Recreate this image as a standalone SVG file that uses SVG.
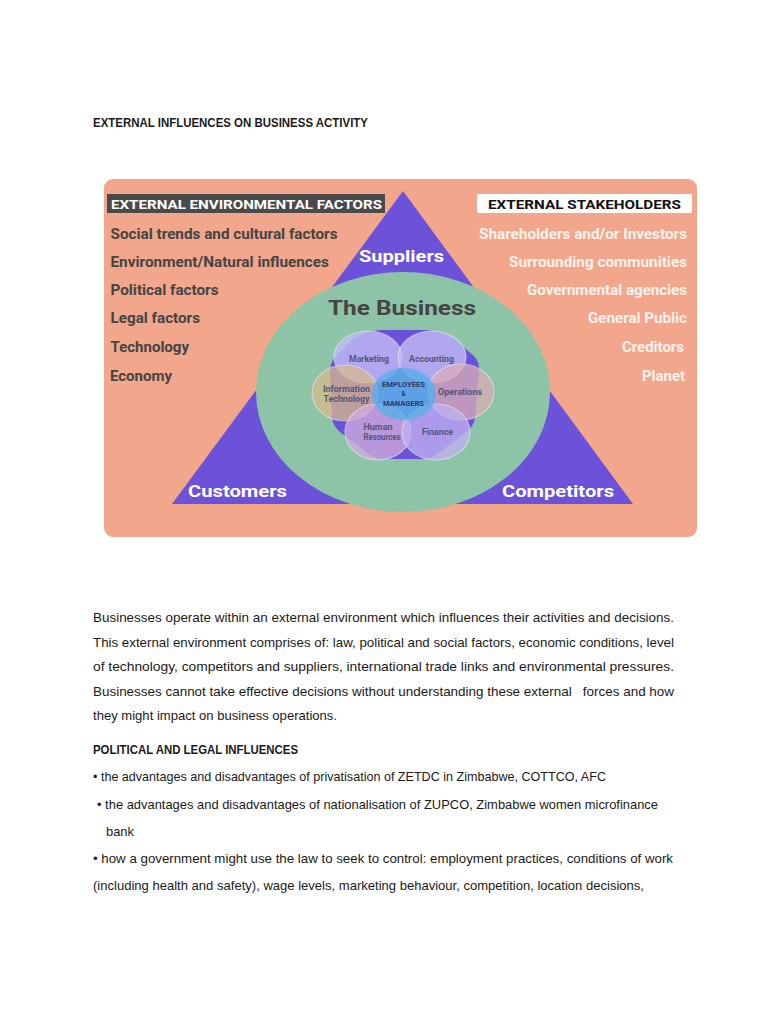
<svg xmlns="http://www.w3.org/2000/svg" width="768" height="1024" viewBox="0 0 768 1024">
<style>
.doc{font-family:"Liberation Sans",Arial,sans-serif;font-size:13px;fill:#1a1a1a}
.docb{font-family:"Liberation Sans",Arial,sans-serif;font-size:13px;font-weight:bold;fill:#1a1a1a}
.lft{font-family:Roboto,"Liberation Sans",sans-serif;font-weight:bold;font-size:14.5px;fill:#454545}
.rgt{font-family:Roboto,"Liberation Sans",sans-serif;font-weight:bold;font-size:14.5px;fill:#fdf2ec;text-anchor:end}
.hdr{font-family:Roboto,"Liberation Sans",sans-serif;font-weight:bold;font-size:13px}
.big{font-family:Roboto,"Liberation Sans",sans-serif;font-weight:bold;font-size:16.5px;fill:#ffffff}
.pet{font-family:Roboto,"Liberation Sans",sans-serif;font-weight:bold;font-size:8.3px;fill:#55557a;text-anchor:middle}
.ctr{font-family:Roboto,"Liberation Sans",sans-serif;font-weight:bold;font-size:6.8px;fill:#2e3a68;text-anchor:middle}
.petal{stroke:#eeeaf5;stroke-opacity:0.55;stroke-width:1.2}
</style>
<rect width="768" height="1024" fill="#ffffff"/>
<text class="docb" x="93" y="127" textLength="275" lengthAdjust="spacingAndGlyphs">EXTERNAL INFLUENCES ON BUSINESS ACTIVITY</text>

<g id="diagram">
  <rect id="background" x="104" y="179" width="593" height="358" rx="9" fill="#f2a68b"/>
  <polygon id="triangle" points="403,191 172,504 633,504" fill="#6b52d9"/>
  <ellipse id="business" cx="403" cy="392" rx="147" ry="120" fill="#8dc3a7"/>
  <path id="core" d="M382,330 L424,330 Q440,330 455,340 L474,356 Q480,362 479,372 L475,418 Q474,426 466,432 L436,455 Q430,459 420,459 L386,459 Q376,459 370,455 L340,432 Q333,426 332,418 L330,372 Q330,362 336,356 L352,340 Q366,330 382,330 Z" fill="#6b52d9"/>
  <g id="petals">
    <ellipse id="marketing" class="petal" cx="368" cy="357" rx="34" ry="26" fill="#c2bdf3" fill-opacity="0.8"/>
    <ellipse id="accounting" class="petal" cx="432" cy="357" rx="34" ry="26" fill="#c2bdf3" fill-opacity="0.8"/>
    <ellipse id="it" class="petal" cx="345" cy="393" rx="33" ry="28" fill="#d9b98a" fill-opacity="0.75"/>
    <ellipse id="operations" class="petal" cx="461" cy="392" rx="33" ry="28" fill="#d9aeb4" fill-opacity="0.75"/>
    <ellipse id="hr" class="petal" cx="378" cy="432" rx="33" ry="28" fill="#cfaadb" fill-opacity="0.78"/>
    <ellipse id="finance" class="petal" cx="436" cy="432" rx="34" ry="28" fill="#bfb0f0" fill-opacity="0.78"/>
    <ellipse id="employees" cx="404" cy="394" rx="32" ry="26" fill="#5aaee8" fill-opacity="0.85"/>
  </g>
  <g id="petal-labels">
    <text class="pet" x="369" y="361.5" textLength="40" lengthAdjust="spacingAndGlyphs">Marketing</text>
    <text class="pet" x="431.5" y="361.5" textLength="45" lengthAdjust="spacingAndGlyphs">Accounting</text>
    <text class="pet" x="346.5" y="391.5" textLength="47" lengthAdjust="spacingAndGlyphs">Information</text>
    <text class="pet" x="346.5" y="401.5" textLength="46" lengthAdjust="spacingAndGlyphs">Technology</text>
    <text class="pet" x="460" y="394.5" textLength="44" lengthAdjust="spacingAndGlyphs">Operations</text>
    <text class="pet" x="378" y="429.5" textLength="29" lengthAdjust="spacingAndGlyphs">Human</text>
    <text class="pet" x="382" y="439.5" textLength="37" lengthAdjust="spacingAndGlyphs">Resources</text>
    <text class="pet" x="437.5" y="434.5" textLength="31" lengthAdjust="spacingAndGlyphs">Finance</text>
    <text class="ctr" x="403.5" y="386.5" textLength="43" lengthAdjust="spacingAndGlyphs">EMPLOYEES</text>
    <text class="ctr" x="403.5" y="396">&amp;</text>
    <text class="ctr" x="403.5" y="406" textLength="41" lengthAdjust="spacingAndGlyphs">MANAGERS</text>
  </g>
  <text id="the-business" x="328" y="315" textLength="148" lengthAdjust="spacingAndGlyphs" style="font-family:Roboto,'Liberation Sans',sans-serif;font-weight:bold;font-size:19.5px;fill:#454545">The Business</text>
  <text id="suppliers" class="big" x="359" y="262" textLength="85" lengthAdjust="spacingAndGlyphs">Suppliers</text>
  <text id="customers" class="big" x="188" y="497" textLength="99" lengthAdjust="spacingAndGlyphs">Customers</text>
  <text id="competitors" class="big" x="502" y="497" textLength="112" lengthAdjust="spacingAndGlyphs">Competitors</text>

  <g id="environmental-factors">
    <rect x="107" y="194" width="278" height="19" fill="#4a4a4a"/>
    <text class="hdr" x="111" y="208.5" fill="#ffffff" textLength="271" lengthAdjust="spacingAndGlyphs">EXTERNAL ENVIRONMENTAL FACTORS</text>
    <text class="lft" x="110.5" y="238.5" textLength="227" lengthAdjust="spacingAndGlyphs">Social trends and cultural factors</text>
    <text class="lft" x="110.5" y="266.5" textLength="218.5" lengthAdjust="spacingAndGlyphs">Environment/Natural influences</text>
    <text class="lft" x="110.5" y="294.5" textLength="108" lengthAdjust="spacingAndGlyphs">Political factors</text>
    <text class="lft" x="110.5" y="322.5" textLength="89.5" lengthAdjust="spacingAndGlyphs">Legal factors</text>
    <text class="lft" x="110.5" y="351.5" textLength="78.5" lengthAdjust="spacingAndGlyphs">Technology</text>
    <text class="lft" x="110" y="381" textLength="62" lengthAdjust="spacingAndGlyphs">Economy</text>
  </g>
  <g id="external-stakeholders">
    <rect x="477" y="194" width="215" height="19" fill="#ffffff"/>
    <text class="hdr" x="488" y="208.5" fill="#111111" textLength="193" lengthAdjust="spacingAndGlyphs">EXTERNAL STAKEHOLDERS</text>
    <text class="rgt" x="687" y="238.5" textLength="208" lengthAdjust="spacingAndGlyphs">Shareholders and/or Investors</text>
    <text class="rgt" x="687" y="266.5" textLength="178" lengthAdjust="spacingAndGlyphs">Surrounding communities</text>
    <text class="rgt" x="687" y="294.5" textLength="160" lengthAdjust="spacingAndGlyphs">Governmental agencies</text>
    <text class="rgt" x="687" y="322.5" textLength="99" lengthAdjust="spacingAndGlyphs">General Public</text>
    <text class="rgt" x="684" y="351.5" textLength="62" lengthAdjust="spacingAndGlyphs">Creditors</text>
    <text class="rgt" x="685" y="381" textLength="43" lengthAdjust="spacingAndGlyphs">Planet</text>
  </g>
</g>

<g id="body-text">
  <text class="doc" x="93" y="622" textLength="581" lengthAdjust="spacingAndGlyphs">Businesses operate within an external environment which influences their activities and decisions.</text>
  <text class="doc" x="93" y="647" textLength="581" lengthAdjust="spacingAndGlyphs">This external environment comprises of: law, political and social factors, economic conditions, level</text>
  <text class="doc" x="93" y="671" textLength="581" lengthAdjust="spacingAndGlyphs">of technology, competitors and suppliers, international trade links and environmental pressures.</text>
  <text class="doc" x="93" y="696" textLength="581" lengthAdjust="spacingAndGlyphs" xml:space="preserve">Businesses cannot take effective decisions without understanding these external   forces and how</text>
  <text class="doc" x="93" y="720" textLength="244" lengthAdjust="spacingAndGlyphs">they might impact on business operations.</text>
  <text class="docb" x="93" y="754" textLength="205" lengthAdjust="spacingAndGlyphs">POLITICAL AND LEGAL INFLUENCES</text>
  <text class="doc" x="93" y="781" textLength="513" lengthAdjust="spacingAndGlyphs">• the advantages and disadvantages of privatisation of ZETDC in Zimbabwe, COTTCO, AFC</text>
  <text class="doc" x="97" y="809" textLength="561" lengthAdjust="spacingAndGlyphs">• the advantages and disadvantages of nationalisation of ZUPCO, Zimbabwe women microfinance</text>
  <text class="doc" x="106" y="836" textLength="28" lengthAdjust="spacingAndGlyphs">bank</text>
  <text class="doc" x="93" y="863" textLength="580" lengthAdjust="spacingAndGlyphs">• how a government might use the law to seek to control: employment practices, conditions of work</text>
  <text class="doc" x="93" y="890" textLength="551" lengthAdjust="spacingAndGlyphs">(including health and safety), wage levels, marketing behaviour, competition, location decisions,</text>
</g>
</svg>
